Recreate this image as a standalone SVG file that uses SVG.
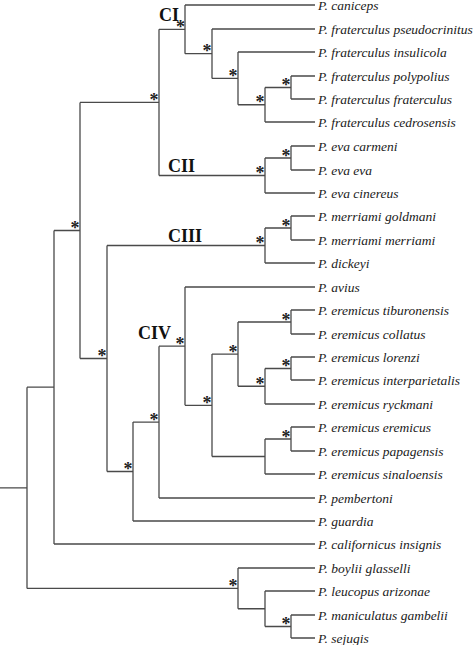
<svg xmlns="http://www.w3.org/2000/svg" width="474" height="645" viewBox="0 0 474 645">
<style>
.br{fill:none;stroke:#4a4a4a;stroke-width:1.3}
.tx{font-family:"Liberation Serif",serif;font-style:italic;font-size:13.5px;fill:#1a1a1a}
.st{font-family:"Liberation Serif",serif;font-weight:bold;font-size:18px;fill:#222;text-anchor:middle}
.cl{font-family:"Liberation Serif",serif;font-weight:bold;font-size:18px;fill:#111}
</style>
<rect width="474" height="645" fill="#fff"/>
<g id="connectors" class="br">
<path d="M0,487.8H27M27,387.2V588.4M27,387.2H54M27,588.4H238"/>
<path d="M54,230.5V544M54,230.5H80M54,544H315"/>
<path d="M80,102.4V358.5M80,102.4H159M80,358.5H107"/>
<path d="M159,29.35V175.5M159,29.35H185M159,175.5H265"/>
<path d="M185,5V53.7M185,5H315M185,53.7H212"/>
<path d="M212,29V78.4M212,29H315M212,78.4H238"/>
<path d="M238,52V104.75M238,52H315M238,104.75H265"/>
<path d="M265,87.5V122M265,87.5H291M265,122H315"/>
<path d="M291,76V99M291,76H315M291,99H315"/>
<path d="M265,158V193M265,158H291M265,193H315"/>
<path d="M291,146V170M291,146H315M291,170H315"/>
<path d="M107,245.5V471.5M107,245.5H265M107,471.5H133"/>
<path d="M265,228V263M265,228H291M265,263H315"/>
<path d="M291,216V240M291,216H315M291,240H315"/>
<path d="M133,422.1V521M133,422.1H159M133,521H315"/>
<path d="M159,346.2V498M159,346.2H185M159,498H315"/>
<path d="M185,287V405.3M185,287H315M185,405.3H212"/>
<path d="M212,354.1V456.5M212,354.1H238M212,456.5H265"/>
<path d="M238,322V386.25M238,322H291M238,386.25H265"/>
<path d="M291,310V334M291,310H315M291,334H315"/>
<path d="M265,368.5V404M265,368.5H291M265,404H315"/>
<path d="M291,357V380M291,357H315M291,380H315"/>
<path d="M265,439V474M265,439H291M265,474H315"/>
<path d="M291,427V451M291,427H315M291,451H315"/>
<path d="M238,568V608.75M238,568H315M238,608.75H265"/>
<path d="M265,591V626.5M265,591H315M265,626.5H291"/>
<path d="M291,615V638M291,615H315M291,638H315"/>
</g>
<g id="support">
<text class="st" x="180.5" y="33">*</text>
<text class="st" x="207" y="57">*</text>
<text class="st" x="233" y="82">*</text>
<text class="st" x="260" y="108">*</text>
<text class="st" x="286" y="91">*</text>
<text class="st" x="154" y="106">*</text>
<text class="st" x="260" y="179">*</text>
<text class="st" x="286" y="161.5">*</text>
<text class="st" x="75" y="234">*</text>
<text class="st" x="102" y="362">*</text>
<text class="st" x="260" y="249">*</text>
<text class="st" x="286" y="231.5">*</text>
<text class="st" x="128" y="475">*</text>
<text class="st" x="154" y="425.5">*</text>
<text class="st" x="180" y="349.5">*</text>
<text class="st" x="207" y="409">*</text>
<text class="st" x="233" y="357.5">*</text>
<text class="st" x="286" y="325.5">*</text>
<text class="st" x="260" y="390">*</text>
<text class="st" x="286" y="372">*</text>
<text class="st" x="286" y="442.5">*</text>
<text class="st" x="233" y="592">*</text>
<text class="st" x="286" y="630">*</text>
</g>
<g id="clade-labels">
<text class="cl" x="159" y="21">CI</text>
<text class="cl" x="168" y="172">CII</text>
<text class="cl" x="168" y="242">CIII</text>
<text class="cl" x="138" y="339">CIV</text>
</g>
<g id="taxa">
<text class="tx" x="318" y="10">P. caniceps</text>
<text class="tx" x="318" y="33.5">P. fraterculus pseudocrinitus</text>
<text class="tx" x="318" y="56.5">P. fraterculus insulicola</text>
<text class="tx" x="318" y="80.5">P. fraterculus polypolius</text>
<text class="tx" x="318" y="103.5">P. fraterculus fraterculus</text>
<text class="tx" x="318" y="126.5">P. fraterculus cedrosensis</text>
<text class="tx" x="318" y="150.5">P. eva carmeni</text>
<text class="tx" x="318" y="174.5">P. eva eva</text>
<text class="tx" x="318" y="197.5">P. eva cinereus</text>
<text class="tx" x="318" y="220.5">P. merriami goldmani</text>
<text class="tx" x="318" y="244.5">P. merriami merriami</text>
<text class="tx" x="318" y="267.5">P. dickeyi</text>
<text class="tx" x="318" y="291.5">P. avius</text>
<text class="tx" x="318" y="314.5">P. eremicus tiburonensis</text>
<text class="tx" x="318" y="338.5">P. eremicus collatus</text>
<text class="tx" x="318" y="361.5">P. eremicus lorenzi</text>
<text class="tx" x="318" y="384.5">P. eremicus interparietalis</text>
<text class="tx" x="318" y="408.5">P. eremicus ryckmani</text>
<text class="tx" x="318" y="431.5">P. eremicus eremicus</text>
<text class="tx" x="318" y="455.5">P. eremicus papagensis</text>
<text class="tx" x="318" y="478.5">P. eremicus sinaloensis</text>
<text class="tx" x="318" y="502.5">P. pembertoni</text>
<text class="tx" x="318" y="525.5">P. guardia</text>
<text class="tx" x="318" y="548.5">P. californicus insignis</text>
<text class="tx" x="318" y="572.5">P. boylii glasselli</text>
<text class="tx" x="318" y="595.5">P. leucopus arizonae</text>
<text class="tx" x="318" y="619.5">P. maniculatus gambelii</text>
<text class="tx" x="318" y="642.5">P. sejugis</text>
</g>
</svg>
